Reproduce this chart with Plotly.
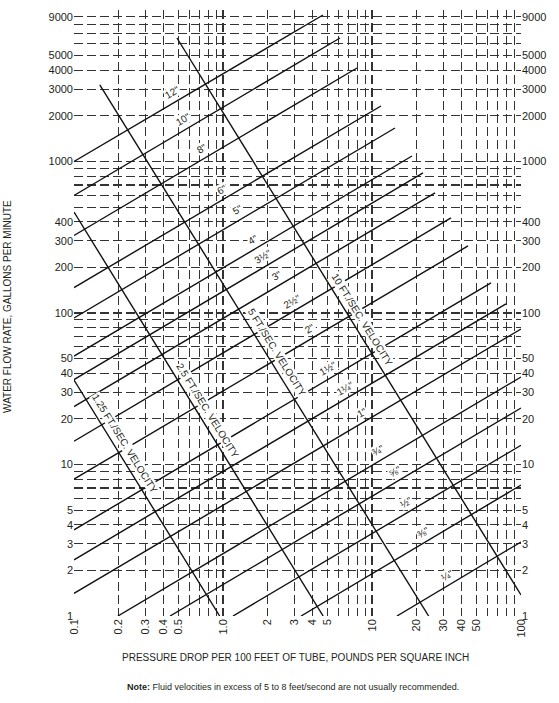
import math
import plotly.graph_objects as go

# ---------------- data ----------------
# Tube size lines (pressure drop psi / 100 ft  vs  flow gpm)
sizes = ['12"', '10"', '8"', '6"', '5"', '4"', '3½"', '3"', '2½"', '2"',
         '1½"', '1¼"', '1"', '¾"', '⅝"', '½"', '⅜"', '¼"']
start_p = [0.1, 0.1, 0.1, 0.1, 0.1, 0.1, 0.1, 0.1, 0.1, 0.1,
           0.1, 0.1, 0.1, 0.197, 0.441, 1.167, 3.34, 14.7]
start_q = [1000, 597, 325, 147, 92.7, 52.0, 36.3, 24.1, 14.25, 8.0,
           3.70, 2.35, 1.41, 1, 1, 1, 1, 1]
end_p = [4.69, 6.10, 7.93, 11.49, 14.27, 18.56, 22.0, 26.5, 33.9, 44.1,
         62.9, 79.3, 100, 100, 100, 100, 100, 100]
end_q = [9268, 6534, 4142, 2324, 1664, 1087, 840, 620, 424, 277,
         158, 115, 78.4, 37.8, 23.6, 13.4, 7.32, 3.08]
size_label_p = [0.455, 0.539, 0.723, 0.985, 1.26, 1.59, 1.86, 2.30, 2.90, 3.84,
                5.07, 6.59, 8.57, 10.97, 14.27, 16.9, 22.0, 31.9]

# Velocity lines
velocities = ["1.25", "2.5", "5", "10"]
vel_start_p = [0.1, 0.1, 0.149, 0.491]
vel_start_q = [36.1, 464, 3199, 6534]
vel_end_p = [0.95, 4.7, 24.0, 100]
vel_end_q = [1, 1, 1, 1.376]
vel_label_p = [0.193, 0.696, 2.03, 7.57]

# Axis ticks
x_grid = [0.1, 0.2, 0.3, 0.4, 0.5, 0.6, 0.7, 0.8, 0.9, 1, 2, 3, 4, 5, 6, 7, 8, 9,
          10, 20, 30, 40, 50, 60, 70, 80, 90, 100]
x_labels = {0.1: "0.1", 0.2: "0.2", 0.3: "0.3", 0.4: "0.4", 0.5: "0.5", 1: "1.0",
            2: "2", 3: "3", 4: "4", 5: "5", 10: "10", 20: "20", 30: "30",
            40: "40", 50: "50", 100: "100"}
y_grid = [m * d for d in (1, 10, 100, 1000) for m in range(1, 10)] + [10000]
y_labels = [1, 2, 3, 4, 5, 10, 20, 30, 40, 50, 100, 200, 300, 400,
            1000, 2000, 3000, 4000, 5000, 9000]

# ---------------- figure ----------------
FONT = "Liberation Sans, Arial, Helvetica, sans-serif"
TXT = "#231f20"
LINE = "#111111"

fig = go.Figure()


def on_line(p, sp, sq, ep, eq):
    lp, lsp, lep = math.log10(p), math.log10(sp), math.log10(ep)
    lsq, leq = math.log10(sq), math.log10(eq)
    return lsq + (lp - lsp) * (leq - lsq) / (lep - lsp)


for i, s in enumerate(sizes):
    fig.add_trace(go.Scatter(x=[start_p[i], end_p[i]], y=[start_q[i], end_q[i]],
                             mode="lines", line=dict(color=LINE, width=1.4),
                             hoverinfo="skip", showlegend=False))
for i, v in enumerate(velocities):
    fig.add_trace(go.Scatter(x=[vel_start_p[i], vel_end_p[i]],
                             y=[vel_start_q[i], vel_end_q[i]],
                             mode="lines", line=dict(color=LINE, width=1.4),
                             hoverinfo="skip", showlegend=False))
# dummy trace for right-hand axis labels
fig.add_trace(go.Scatter(x=[None], y=[None], yaxis="y2", showlegend=False,
                         hoverinfo="skip"))

annotations = []
for i, s in enumerate(sizes):
    ly = on_line(size_label_p[i], start_p[i], start_q[i], end_p[i], end_q[i])
    annotations.append(dict(x=math.log10(size_label_p[i]), y=ly, xref="x", yref="y",
                            text=s, showarrow=False, textangle=-30.6, yshift=11,
                            xanchor="center", yanchor="middle", bgcolor="white",
                            borderpad=0, font=dict(family=FONT, size=10, color=TXT)))
for i, v in enumerate(velocities):
    ly = on_line(vel_label_p[i], vel_start_p[i], vel_start_q[i], vel_end_p[i], vel_end_q[i])
    annotations.append(dict(x=math.log10(vel_label_p[i]), y=ly, xref="x", yref="y",
                            text=f"{v} FT./SEC. VELOCITY", showarrow=False,
                            textangle=58.2, xshift=8, yshift=5,
                            xanchor="center", yanchor="middle", bgcolor="white",
                            borderpad=0, font=dict(family=FONT, size=10, color=TXT)))

annotations.append(dict(x=0.495, y=0, xref="paper", yref="paper", yshift=-41,
                        text="PRESSURE DROP PER 100 FEET OF TUBE, POUNDS PER SQUARE INCH",
                        showarrow=False, xanchor="center", yanchor="middle",
                        font=dict(family=FONT, size=10, color=TXT)))
annotations.append(dict(x=0, y=0.51, xref="paper", yref="paper", xshift=-66,
                        text="WATER FLOW RATE, GALLONS PER MINUTE", textangle=-90,
                        showarrow=False, xanchor="center", yanchor="middle",
                        font=dict(family=FONT, size=10, color=TXT)))
annotations.append(dict(x=0.49, y=0, xref="paper", yref="paper", yshift=-71,
                        text="<b>Note:</b> Fluid velocities in excess of 5 to 8 feet/second are not usually recommended.",
                        showarrow=False, xanchor="center", yanchor="middle",
                        font=dict(family=FONT, size=9, color=TXT)))

grid_style = dict(showgrid=True, gridcolor="#333333", gridwidth=1.1,
                  griddash="9px,4px", showline=False, zeroline=False, ticks="",
                  automargin=False)

y_text = [str(v) if v in y_labels else "" for v in y_grid]

fig.update_layout(
    width=559, height=703,
    margin=dict(l=74, r=38, t=10, b=87),
    paper_bgcolor="white", plot_bgcolor="white",
    font=dict(family=FONT, color=TXT),
    xaxis=dict(type="log", range=[-1, 2], tickvals=x_grid,
               ticktext=[x_labels.get(v, "") for v in x_grid], tickangle=-90,
               tickfont=dict(family=FONT, size=11, color=TXT), **grid_style),
    yaxis=dict(type="log", range=[0, 4], tickvals=y_grid, ticktext=y_text,
               tickfont=dict(family=FONT, size=11, color=TXT), **grid_style),
    yaxis2=dict(type="log", range=[0, 4], overlaying="y", side="right",
                tickvals=y_grid, ticktext=y_text, showgrid=False, zeroline=False,
                showline=False, ticks="", automargin=False,
                tickfont=dict(family=FONT, size=11, color=TXT)),
    annotations=annotations,
    showlegend=False,
)

fig.write_html("out.html", config={"displayModeBar": False, "staticPlot": True},
               post_script="document.body.style.margin='0px';document.body.style.overflow='hidden';")
